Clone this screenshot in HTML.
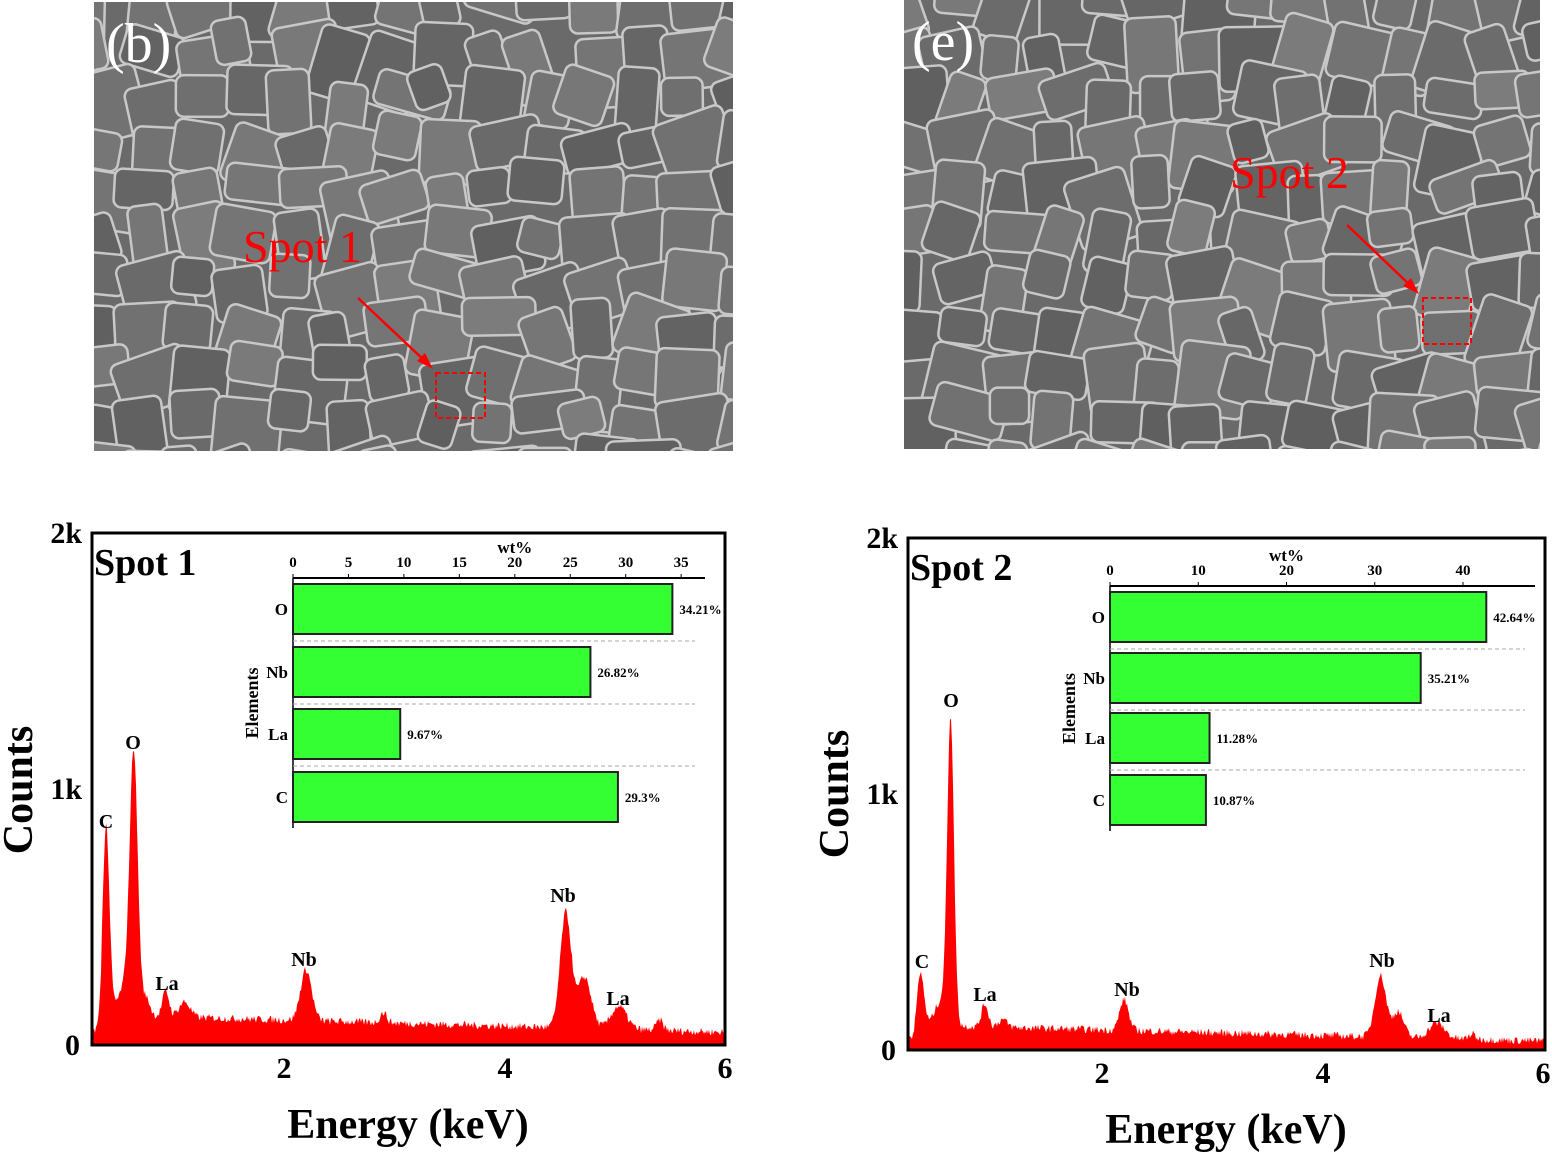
<!DOCTYPE html>
<html><head><meta charset="utf-8">
<style>
body{margin:0;background:#fff;width:1552px;height:1154px;overflow:hidden;}
svg text{font-family:"Liberation Serif",serif;}
</style></head><body>
<svg id="s" width="1552" height="1154" xmlns="http://www.w3.org/2000/svg">
<defs>
<clipPath id="c1"><rect x="94" y="2" width="639" height="449"/></clipPath>
<clipPath id="c2"><rect x="904" y="0" width="636" height="449"/></clipPath>
</defs>
<rect x="94" y="2" width="639" height="449" fill="#6a6a6a"/>
<g id="g1" clip-path="url(#c1)"></g>
<rect x="904" y="0" width="636" height="449" fill="#6a6a6a"/>
<g id="g2" clip-path="url(#c2)"></g>
<g id="sp"></g>
<text x="106" y="62" font-size="56" fill="#fff">(b)</text>
<text x="243" y="262" font-size="46" fill="#f00">Spot 1</text>
<line x1="358" y1="298" x2="426" y2="362" stroke="#f00" stroke-width="2.5"/>
<polygon points="433,369 417,361 425,353" fill="#f00"/>
<rect x="436" y="373" width="49" height="45" fill="none" stroke="#f00" stroke-width="2" stroke-dasharray="5,3"/>
<text x="912" y="60" font-size="56" fill="#fff">(e)</text>
<text x="1230" y="188" font-size="46" fill="#f00">Spot 2</text>
<line x1="1347" y1="225" x2="1412" y2="287" stroke="#f00" stroke-width="2.5"/>
<polygon points="1419,294 1403,286 1411,278" fill="#f00"/>
<rect x="1423" y="298" width="48" height="46" fill="none" stroke="#f00" stroke-width="2" stroke-dasharray="5,3"/>

<rect x="92" y="533" width="633" height="512" fill="none" stroke="#000" stroke-width="3"/>
<g font-weight="bold" font-size="30" text-anchor="end">
<text x="82" y="543">2k</text><text x="82" y="799">1k</text><text x="80" y="1055">0</text>
<text x="898" y="548">2k</text><text x="898" y="804">1k</text><text x="896" y="1060">0</text>
</g>
<g font-weight="bold" font-size="30" text-anchor="middle">
<text x="284" y="1078">2</text><text x="505" y="1078">4</text><text x="725" y="1078">6</text>
<text x="1102" y="1083">2</text><text x="1323" y="1083">4</text><text x="1543" y="1083">6</text>
</g>
<text x="408" y="1138" font-size="42" font-weight="bold" text-anchor="middle">Energy (keV)</text>
<text x="1226" y="1143" font-size="42" font-weight="bold" text-anchor="middle">Energy (keV)</text>
<text transform="translate(32,790) rotate(-90)" font-size="42" font-weight="bold" text-anchor="middle">Counts</text>
<text transform="translate(848,794) rotate(-90)" font-size="42" font-weight="bold" text-anchor="middle">Counts</text>
<text x="94" y="575" font-size="38" font-weight="bold">Spot 1</text>
<text x="910" y="580" font-size="38" font-weight="bold">Spot 2</text>
<rect x="908" y="538" width="637" height="512" fill="none" stroke="#000" stroke-width="3"/>
<g font-weight="bold" font-size="20" text-anchor="middle">
<text x="106" y="828">C</text><text x="133" y="749">O</text><text x="167" y="990">La</text><text x="304" y="966">Nb</text><text x="563" y="902">Nb</text><text x="618" y="1005">La</text>
<text x="922" y="968">C</text><text x="951" y="707">O</text><text x="985" y="1001">La</text><text x="1127" y="996">Nb</text><text x="1382" y="967">Nb</text><text x="1439" y="1022">La</text>
</g>
<g id="ins"></g>
</svg>
<script>
var NS="http://www.w3.org/2000/svg";
function el(p,t,a,txt){var e=document.createElementNS(NS,t);for(var k in a)e.setAttribute(k,a[k]);if(txt!==undefined)e.textContent=txt;p.appendChild(e);return e;}
var seed=7;function rnd(){seed=(seed*16807)%2147483647;return seed/2147483647;}
function grains(g,x0,y0,w,h){
  var cs=58;
  for(var y=y0-30;y<y0+h;y+=cs*0.8){for(var x=x0-30;x<x0+w;x+=cs*0.85){
    var gw=cs*(0.6+rnd()*0.7),gh=cs*(0.6+rnd()*0.7);
    var gx=x+rnd()*20,gy=y+rnd()*20;
    var c=95+Math.floor(rnd()*30);
    el(g,'rect',{x:gx,y:gy,width:gw,height:gh,rx:8,fill:'rgb('+c+','+c+','+c+')',stroke:'#c8c8c8','stroke-width':2.5,transform:'rotate('+(rnd()*40-20)+' '+(gx+gw/2)+' '+(gy+gh/2)+')'});
  }}
}
grains(document.getElementById('g1'),94,2,639,449);
grains(document.getElementById('g2'),904,0,636,449);
var sp=document.getElementById('sp');
function spectrum(xl,xr,x0,y0,peaks,bg){
  var pts=[xl+','+y0];
  for(var x=xl;x<=xr;x++){
    var E=(x-x0)/110.5;
    var v=bg(E);
    peaks.forEach(function(p){v+=p[1]*Math.exp(-Math.pow((E-p[0])/p[2],2)/2);});
    v+=(rnd()-0.5)*0.03;
    if(v<0)v=0;
    pts.push(x+','+(y0-v*256).toFixed(1));
  }
  pts.push(xr+','+y0);
  el(sp,'polygon',{points:pts.join(' '),fill:'#f00'});
}
spectrum(93,724,63,1045,[[0.39,0.74,0.03],[0.64,0.92,0.035],[0.6,0.15,0.08],[0.76,0.05,0.03],[0.93,0.1,0.03],[1.1,0.06,0.05],[2.2,0.2,0.05],[2.9,0.04,0.03],[4.55,0.45,0.05],[4.72,0.2,0.06],[5.03,0.09,0.07],[5.4,0.04,0.03]],
 function(E){return E<0.35?0.06:0.11-0.012*(E-1);});
spectrum(909,1544,881,1050,[[0.36,0.2,0.03],[0.63,1.18,0.03],[0.55,0.1,0.06],[0.94,0.09,0.03],[1.1,0.03,0.04],[2.2,0.12,0.04],[4.52,0.24,0.05],[4.68,0.1,0.05],[5.03,0.06,0.07],[5.35,0.02,0.03]],
 function(E){return E<0.3?0.05:0.09-0.011*(E-1);});
var ins=document.getElementById('ins');
function inset(ax0,aymin,axr,unit,ticks,tickY,lblY,bars,elx){
  el(ins,'line',{x1:ax0,y1:aymin,x2:axr,y2:aymin,stroke:'#000','stroke-width':2});
  el(ins,'line',{x1:ax0,y1:aymin,x2:ax0,y2:bars[3][1]+56,stroke:'#000','stroke-width':1.5});
  ticks.forEach(function(t){var x=ax0+t*unit;el(ins,'text',{x:x,y:tickY,'font-size':15,'font-weight':'bold','text-anchor':'middle'},t);el(ins,'line',{x1:x,y1:aymin,x2:x,y2:aymin-4,stroke:'#000'});});
  el(ins,'text',{x:ax0+20*unit,y:tickY-14,'font-size':17,'font-weight':'bold','text-anchor':'middle'},'wt%');
  var names=['O','Nb','La','C'];
  bars.forEach(function(b,i){
    var w=b[0]*unit;
    el(ins,'rect',{x:ax0,y:b[1],width:w,height:50,fill:'#3f3',stroke:'#222','stroke-width':2});
    el(ins,'text',{x:ax0+w+7,y:b[1]+30,'font-size':13,'font-weight':'bold'},b[2]);
    el(ins,'text',{x:ax0-5,y:b[1]+31,'font-size':17,'font-weight':'bold','text-anchor':'end'},names[i]);
    if(i<3)el(ins,'line',{x1:ax0,y1:b[1]+57,x2:axr-10,y2:b[1]+57,stroke:'#aaa','stroke-dasharray':'4,3'});
  });
  el(ins,'text',{transform:'translate('+elx+','+((bars[0][1]+bars[3][1]+50)/2)+') rotate(-90)','font-size':18,'font-weight':'bold','text-anchor':'middle'},'Elements');
}
inset(293,578,705,11.09,[0,5,10,15,20,25,30,35],567,0,[[34.21,584,'34.21%'],[26.82,647,'26.82%'],[9.67,709,'9.67%'],[29.3,772,'29.3%']],258);
inset(1110,586,1535,8.825,[0,10,20,30,40],575,0,[[42.64,592,'42.64%'],[35.21,653,'35.21%'],[11.28,713,'11.28%'],[10.87,775,'10.87%']],1075);
</script>
</body></html>
